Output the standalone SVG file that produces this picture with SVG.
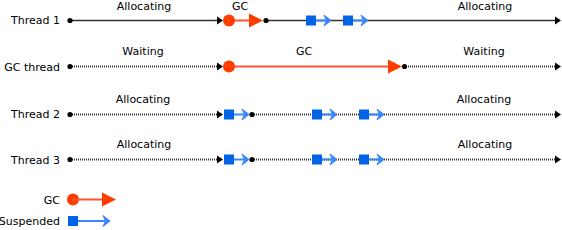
<svg xmlns="http://www.w3.org/2000/svg" width="562" height="230" viewBox="0 0 562 230">
<defs>
<style>
text{font-family:"DejaVu Sans","Verdana",sans-serif;font-size:11px;fill:#000}
.lbl{text-anchor:end}
.mid{text-anchor:middle}
.solid{stroke:#333;stroke-width:1.6;fill:none}
.dot{stroke:#333;stroke-width:2;stroke-dasharray:1 1;fill:none}
.red{stroke:#FF5533;stroke-width:2;fill:none}
.blue{stroke:#3A86FF;stroke-width:2;fill:none}
.rfill{fill:#FF3D00}
.bfill{fill:#0063E6}
.k{fill:#000}
.chev{fill:#3A86FF;stroke:#3A86FF;stroke-width:1}
</style>
<g id="blk-arrow"><path d="M0,0 L-6,-4 L-6,4 Z" class="k"/></g>
<g id="susp"><rect x="0" y="-5" width="10" height="10" class="bfill"/><line x1="10" y1="0" x2="22" y2="0" class="blue"/><path d="M25,0 L18,-5.5 L20.5,0 L18,5.5 Z" class="chev"/></g>
</defs>

<g id="labels">
<text class="lbl" x="60" y="24">Thread 1</text>
<text class="lbl" x="60" y="70.5">GC thread</text>
<text class="lbl" x="60" y="118">Thread 2</text>
<text class="lbl" x="60" y="163.5">Thread 3</text>
<text class="mid" x="144" y="10">Allocating</text>
<text class="mid" x="240" y="10">GC</text>
<text class="mid" x="485" y="10">Allocating</text>
<text class="mid" x="143" y="55">Waiting</text>
<text class="mid" x="304" y="55">GC</text>
<text class="mid" x="484" y="55">Waiting</text>
<text class="mid" x="143" y="103">Allocating</text>
<text class="mid" x="484" y="103">Allocating</text>
<text class="mid" x="144" y="148">Allocating</text>
<text class="mid" x="485" y="148">Allocating</text>
</g>

<g id="connectors">
<line x1="70" y1="20.5" x2="218" y2="20.5" class="solid"/>
<use href="#blk-arrow" x="223" y="20.5"/>
<line x1="229" y1="20.5" x2="250" y2="20.5" class="red"/>
<line x1="266" y1="20.5" x2="555" y2="20.5" class="solid"/>
<use href="#blk-arrow" x="561" y="20.5"/>
<line x1="70" y1="66.5" x2="218" y2="66.5" class="dot"/>
<use href="#blk-arrow" x="223" y="66.5"/>
<line x1="229" y1="66.5" x2="389" y2="66.5" class="red"/>
<line x1="404" y1="66.5" x2="555" y2="66.5" class="dot"/>
<use href="#blk-arrow" x="561" y="66.5"/>
<line x1="70" y1="114.5" x2="218" y2="114.5" class="dot"/>
<use href="#blk-arrow" x="223" y="114.5"/>
<line x1="252" y1="114.5" x2="555" y2="114.5" class="dot"/>
<use href="#blk-arrow" x="561" y="114.5"/>
<line x1="70" y1="159.5" x2="218" y2="159.5" class="dot"/>
<use href="#blk-arrow" x="223" y="159.5"/>
<line x1="252" y1="159.5" x2="555" y2="159.5" class="dot"/>
<use href="#blk-arrow" x="561" y="159.5"/>
</g>

<g id="thread1">
<circle cx="70" cy="20.5" r="2.6" class="k"/>
<circle cx="229" cy="20.5" r="6" class="rfill"/>
<path d="M263,20.5 L249,13.5 L249,27.5 Z" class="rfill"/>
<circle cx="266" cy="20.5" r="2.6" class="k"/>
<use href="#susp" x="306" y="20.5"/>
<use href="#susp" x="343" y="20.5"/>
</g>

<g id="gcthread">
<circle cx="70" cy="66.5" r="2.6" class="k"/>
<circle cx="229" cy="66.5" r="6" class="rfill"/>
<path d="M402,66.5 L388,59.5 L388,73.5 Z" class="rfill"/>
<circle cx="404.5" cy="66.5" r="2.6" class="k"/>
</g>

<g id="thread2">
<circle cx="70" cy="114.5" r="2.6" class="k"/>
<use href="#susp" x="224" y="114.5"/>
<circle cx="252" cy="114.5" r="2.6" class="k"/>
<use href="#susp" x="312" y="114.5"/>
<use href="#susp" x="359" y="114.5"/>
</g>

<g id="thread3">
<circle cx="70" cy="159.5" r="2.6" class="k"/>
<use href="#susp" x="224" y="159.5"/>
<circle cx="252" cy="159.5" r="2.6" class="k"/>
<use href="#susp" x="312" y="159.5"/>
<use href="#susp" x="359" y="159.5"/>
</g>

<g id="legend">
<text class="lbl" x="60" y="203.5">GC</text>
<circle cx="73" cy="199.5" r="6" class="rfill"/>
<line x1="73" y1="199.5" x2="103" y2="199.5" class="red"/>
<path d="M116,199.5 L102,192.5 L102,206.5 Z" class="rfill"/>
<text class="lbl" x="60" y="225">Suspended</text>
<rect x="68" y="216" width="10" height="10" class="bfill"/>
<line x1="78" y1="221" x2="105" y2="221" class="blue"/>
<path d="M110,221 L103,215.5 L105.5,221 L103,226.5 Z" class="chev"/>
</g>
</svg>
